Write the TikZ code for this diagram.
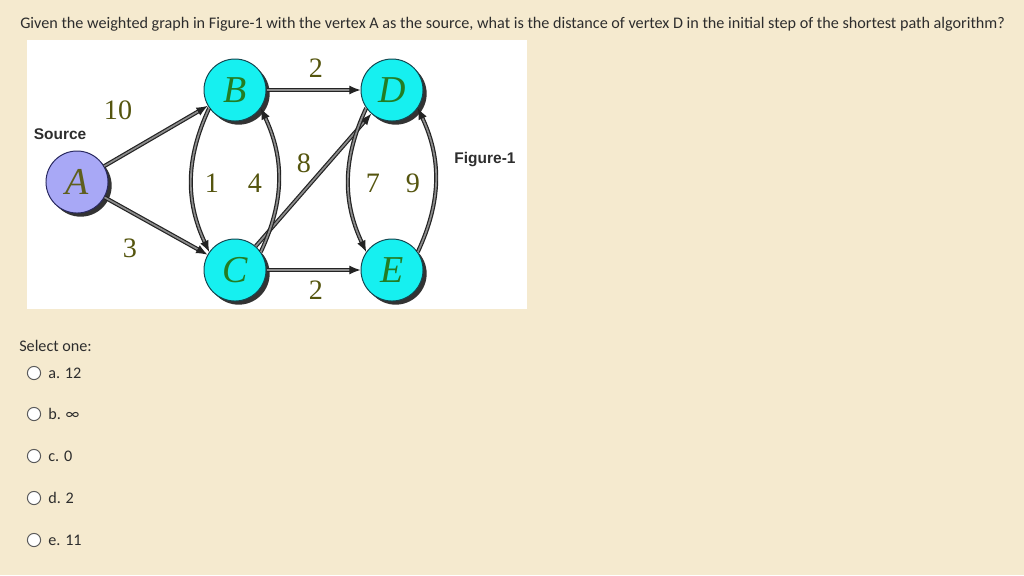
\documentclass[tikz,border=0pt]{standalone}
\usepackage{fontspec}
\setmainfont{Carlito}
\newfontfamily\serifnum{Liberation Serif}
\newfontfamily\labelfont{Liberation Sans}
\usetikzlibrary{arrows.meta,shadows}

\definecolor{pagebg}{RGB}{245,234,207}
\definecolor{textgray}{RGB}{45,45,45}
\definecolor{fillA}{RGB}{168,168,246}
\definecolor{borderA}{RGB}{40,40,95}
\definecolor{letterA}{RGB}{95,95,30}
\definecolor{fillcyan}{RGB}{22,240,240}
\definecolor{bordercyan}{RGB}{20,70,80}
\definecolor{lettercyan}{RGB}{35,125,35}
\definecolor{weightcol}{RGB}{85,85,15}
\definecolor{edgeline}{RGB}{35,35,35}
\definecolor{edgefill}{RGB}{140,140,140}
\definecolor{radiocol}{RGB}{90,90,90}

\tikzstyle{vertex}=[circle,minimum size=1.55cm,inner sep=0pt,line width=0.7pt,
  drop shadow={shadow xshift=2.6pt,shadow yshift=-2.6pt,fill=black!80,opacity=1}]
\tikzstyle{nodedecorate}=[font=\serifnum\itshape\fontsize{27}{27}\selectfont]
\tikzstyle{weight}=[font=\serifnum\fontsize{20}{20}\selectfont,text=weightcol]
\tikzstyle{arrowdecorate}=[draw=edgeline,line width=0.85pt,double=edgefill,double distance=1.2pt,
  -{Latex[length=8pt,width=6.5pt]}]
\tikzstyle{tag}=[font=\labelfont\bfseries\fontsize{11}{11}\selectfont,text=textgray]
\tikzstyle{radio}=[circle,draw=radiocol,fill=white,line width=0.7pt,minimum size=0.33cm,inner sep=0pt]
\tikzstyle{option}=[font=\fontsize{11.5}{13}\selectfont,text=textgray,inner sep=0pt]

\begin{document}
\begin{tikzpicture}[x=0.025cm,y=0.025cm]
      \fill[pagebg] (0,0) rectangle (1024,-575);
      \useasboundingbox (0,0) rectangle (1024,-575);
      \fill[white] (27,-40) rectangle (527,-309);
      \node[option,anchor=base west] (question) at (20,-28)
        {Given the weighted graph in Figure-1 with the vertex A as the source, what is the distance of vertex D in the initial step of the shortest path algorithm?};
      %nodes
      \foreach \nodename/\x/\y/\fillcol/\drawcol/\textcol in {
        A/77/182/fillA/borderA/letterA,
        B/235/90/fillcyan/bordercyan/lettercyan,
        C/235/270/fillcyan/bordercyan/lettercyan,
        D/392/90/fillcyan/bordercyan/lettercyan,
        E/392/270/fillcyan/bordercyan/lettercyan}
      {
        \node[vertex, nodedecorate, fill=\fillcol, draw=\drawcol, text=\textcol] (\nodename) at (\x,-\y) {\nodename};
      };
      %edges
      \path
      \foreach \startnode/\endnode/\angle in {
        A/B/0, A/C/0, B/D/0, C/E/0, C/D/0,
        B.215/C.145/25, C.35/B.325/25, D.215/E.145/25, E.35/D.325/25}
      {
        (\startnode) edge[arrowdecorate,bend right=\angle] (\endnode)
      };
      %weights
      \foreach \wname/\x/\y/\w in {
        ab/118/110/10, ac/130/248/3, bd/316/68/2, ce/316/290/2, cd/304/163/8,
        bc/212/183/1, cb/255/183/4, de/373/183/7, ed/413/183/9}
      {
        \node[weight] (w\wname) at (\x,-\y) {\w};
      };
      \node[tag] (source) at (60,-134) {Source};
      \node[tag] (figname) at (485,-160) {Figure-1};
      %answers
      \node[option,anchor=west] (select) at (19,-346) {Select one:};
      \foreach \opt/\y/\txt in {a/373/a. 12, b/414/b. ∞, c/456/c. 0, d/498/d. 2, e/540/e. 11}
      {
        \node[radio] (r\opt) at (34,-\y) {};
        \node[option,anchor=west] (o\opt) at (48,-\y) {\txt};
      };
    \end{tikzpicture}
\end{document}
